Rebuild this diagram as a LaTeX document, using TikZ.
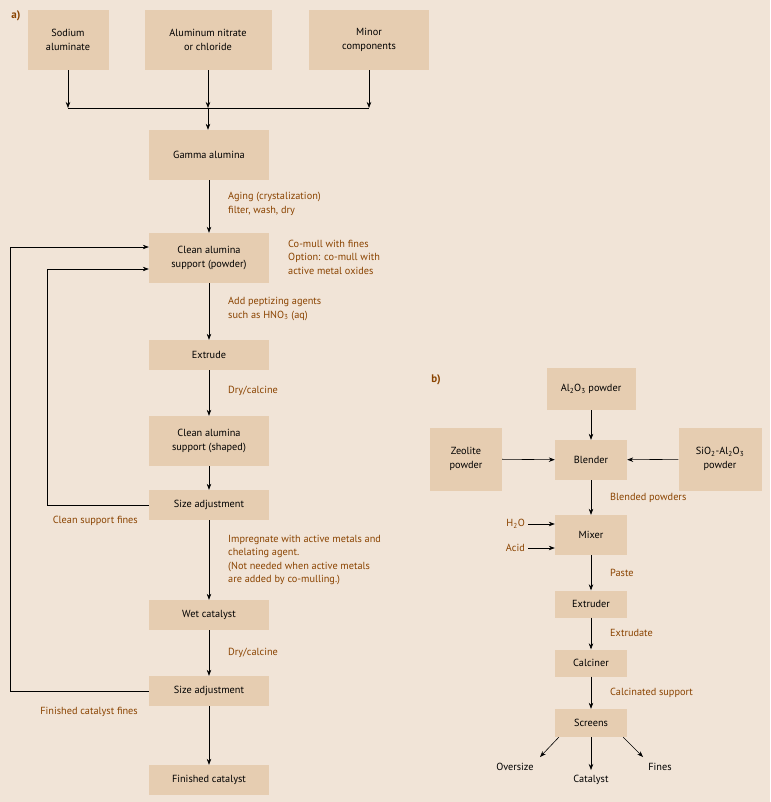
\documentclass[tikz,border=0pt]{standalone}
\usepackage{fontspec}
\setmainfont{PT Sans}
\usetikzlibrary{arrows.meta}
\definecolor{bg}{HTML}{F1E4D7}
\definecolor{bx}{HTML}{E6CDB1}
\definecolor{lab}{HTML}{8A4300}
\begin{document}
\begin{tikzpicture}[x=1pt,y=-1pt,
  every node/.style={font=\fontsize{10.3}{13.5}\selectfont},
  box/.style={fill=bx,align=center,inner sep=0pt},
  lbl/.style={text=lab,align=left,anchor=west,inner sep=0pt},
  arr/.style={-{Stealth[length=6pt,width=4.5pt]},line width=0.6pt},
  ln/.style={line width=0.6pt}]
\useasboundingbox[fill=bg] (0,0) rectangle (770,802);
\node[text=lab,font=\bfseries\fontsize{11}{12}\selectfont] (la) at (16,16) {a)};
\node[text=lab,font=\bfseries\fontsize{11}{12}\selectfont] (lb) at (436,380) {b)};
% a
\node[box,minimum width=81,minimum height=60] (sa) at (68,40) {Sodium\\aluminate};
\node[box,minimum width=127,minimum height=60] (an) at (208,40) {Aluminum nitrate\\or chloride};
\node[box,minimum width=120,minimum height=60] (mc) at (369,40) {Minor\\components};
\coordinate (b1) at (68,108); \coordinate (b2) at (208,108); \coordinate (b3) at (369,108);
\draw[ln] (b1) -- (b3);
\draw[arr] (sa) -- (b1);
\draw[arr] (an) -- (b2);
\draw[arr] (mc) -- (b3);
\node[box,minimum width=120,minimum height=50] (ga) at (209,155) {Gamma alumina};
\draw[arr] (b2) -- (b2|-ga.north);
\node[box,minimum width=120,minimum height=50] (cp) at (209,258) {Clean alumina\\support (powder)};
\draw[arr] (ga) -- (cp);
\node[lbl] (l1) at (228,204) {Aging (crystalization)\\filter, wash, dry};
\node[lbl] (l2) at (288,257) {Co-mull with fines\\Option: co-mull with\\active metal oxides};
\node[box,minimum width=120,minimum height=30] (ex) at (209,355) {Extrude};
\draw[arr] (cp) -- (ex);
\node[lbl] (l3) at (228,309) {Add peptizing agents\\such as HNO\textsubscript{3} (aq)};
\node[box,minimum width=120,minimum height=50] (cs) at (209,441) {Clean alumina\\support (shaped)};
\draw[arr] (ex) -- (cs);
\node[lbl] (l4) at (228,391) {Dry/calcine};
\node[box,minimum width=120,minimum height=30] (s1) at (209,505) {Size adjustment};
\draw[arr] (cs) -- (s1);
\node[text=lab,inner sep=0pt,anchor=east] (l5) at (138,521) {Clean support fines};
\coordinate (f1) at (47,505); \coordinate (f2) at (47,269);
\draw[arr] (s1.west) -- (f1) -- (f2) -- (cp.west|-f2);
\node[lbl] (l6) at (228,560) {Impregnate with active metals and\\chelating agent.\\(Not needed when active metals\\are added by co-mulling.)};
\node[box,minimum width=120,minimum height=30] (wc) at (209,615) {Wet catalyst};
\draw[arr] (s1) -- (wc);
\node[lbl] (l7) at (228,653) {Dry/calcine};
\node[box,minimum width=120,minimum height=30] (s2) at (209,691) {Size adjustment};
\draw[arr] (wc) -- (s2);
\node[text=lab,inner sep=0pt,anchor=east] (l8) at (138,712) {Finished catalyst fines};
\coordinate (g1) at (10,691); \coordinate (g2) at (10,247);
\draw[arr] (s2.west) -- (g1) -- (g2) -- (cp.west|-g2);
\node[box,minimum width=120,minimum height=30] (fc) at (209,780) {Finished catalyst};
\draw[arr] (s2) -- (fc);
% b
\node[box,minimum width=89,minimum height=42] (al) at (591,389) {Al\textsubscript{2}O\textsubscript{3} powder};
\node[box,minimum width=72,minimum height=63] (ze) at (466,459) {Zeolite\\powder};
\node[box,minimum width=72,minimum height=40] (bl) at (591,460) {Blender};
\node[box,minimum width=83,minimum height=63] (si) at (720,459) {SiO\textsubscript{2}-Al\textsubscript{2}O\textsubscript{3}\\powder};
\draw[arr] (al) -- (bl);
\draw[arr] (ze) -- (bl);
\draw[arr] (si) -- (bl);
\node[lbl] (m1) at (610,498) {Blended powders};
\node[box,minimum width=72,minimum height=40] (mx) at (591,535) {Mixer};
\draw[arr] (bl) -- (mx);
\node[text=lab,inner sep=0pt,anchor=east] (h2o) at (525,524) {H\textsubscript{2}O};
\node[text=lab,inner sep=0pt,anchor=east] (acid) at (525,548) {Acid};
\draw[arr] (h2o.east) ++(3,0) coordinate (hh) -- (mx.west|-hh);
\draw[arr] (acid.east) ++(3,0) coordinate (aa) -- (mx.west|-aa);
\node[lbl] (m2) at (610,573) {Paste};
\node[box,minimum width=72,minimum height=27] (et) at (591,604) {Extruder};
\draw[arr] (mx) -- (et);
\node[lbl] (m3) at (610,633) {Extrudate};
\node[box,minimum width=72,minimum height=27] (ca) at (591,663) {Calciner};
\draw[arr] (et) -- (ca);
\node[lbl] (m4) at (610,693) {Calcinated support};
\node[box,minimum width=72,minimum height=28] (sc) at (591,723) {Screens};
\draw[arr] (ca) -- (sc);
\node[inner sep=0pt] (ov) at (515,767) {Oversize};
\node[inner sep=0pt] (cat) at (591,780) {Catalyst};
\node[inner sep=0pt] (fi) at (660,767) {Fines};
\coordinate (o1) at (540,757); \coordinate (o2) at (643,757); \coordinate (o3) at (591,770);
\draw[arr] (sc.south west) ++(4,0) -- (o1);
\draw[arr] (sc) -- (o3);
\draw[arr] (sc.south east) ++(-4,0) -- (o2);
\end{tikzpicture}
\end{document}
